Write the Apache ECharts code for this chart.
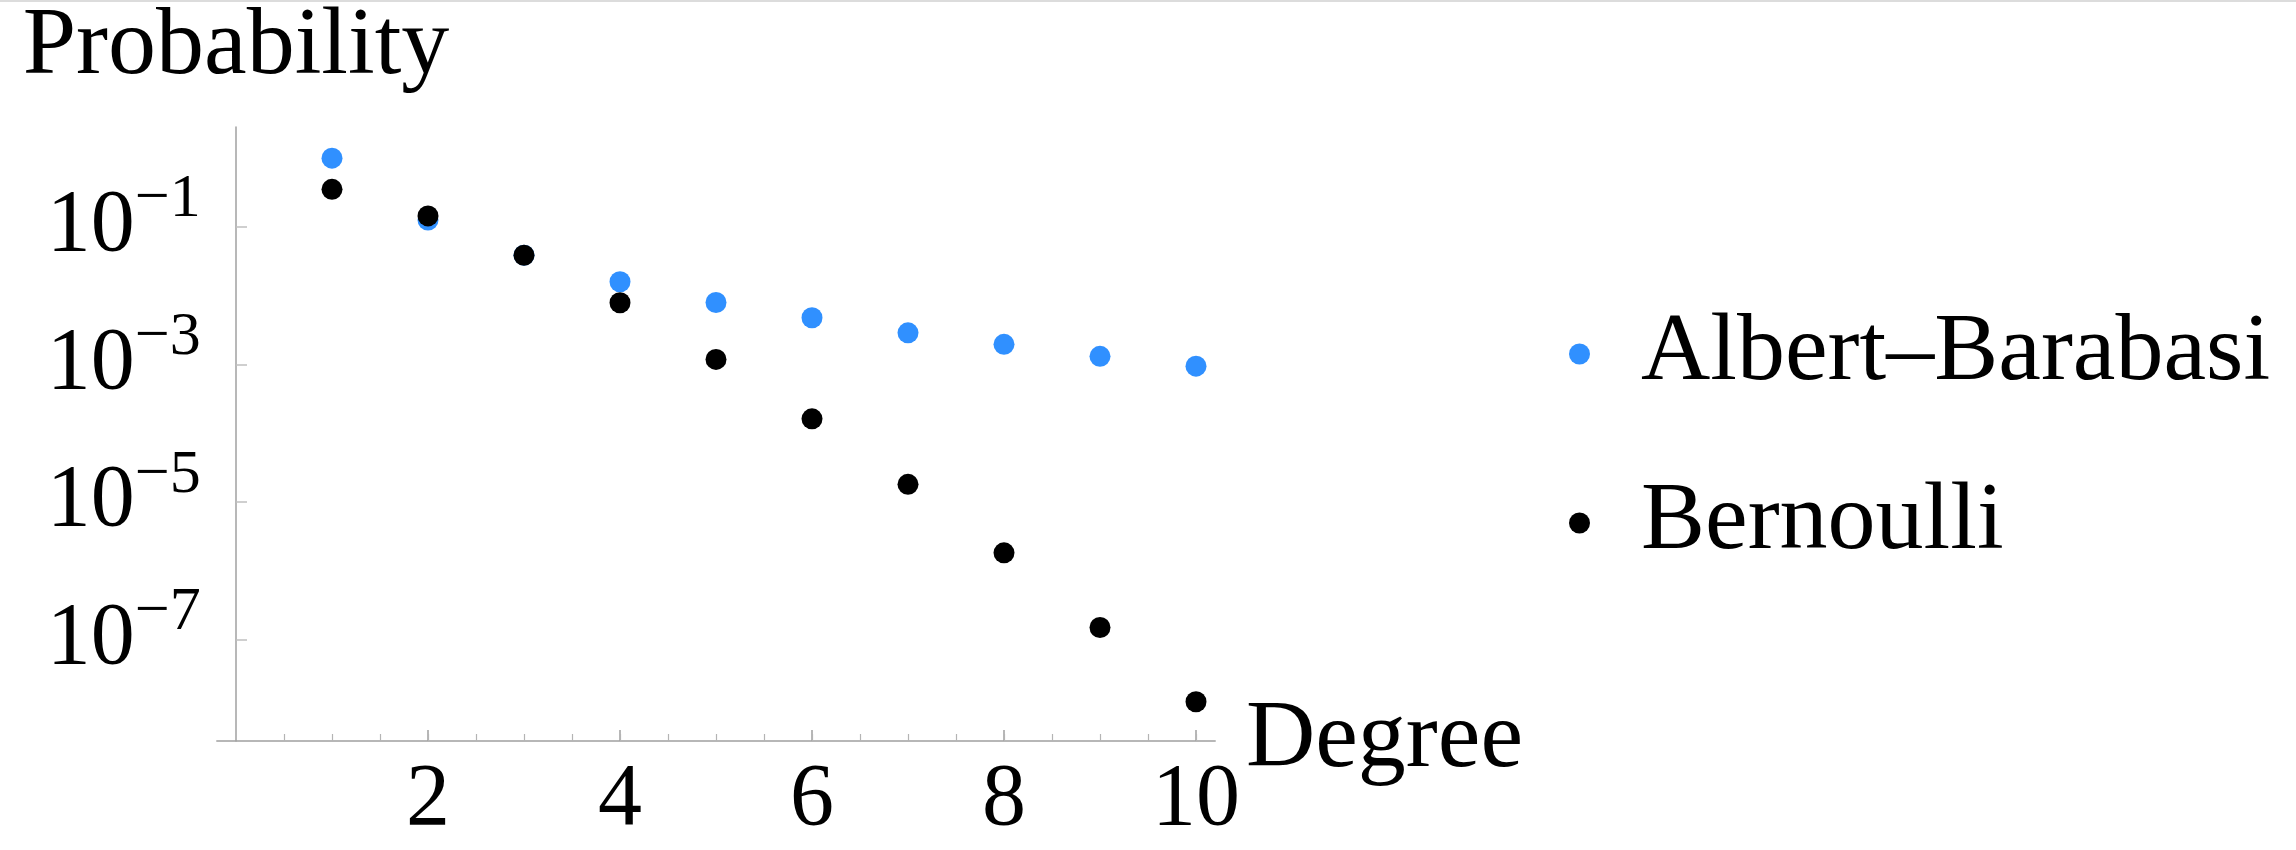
<!DOCTYPE html>
<html>
<head>
<meta charset="utf-8">
<script src="https://cdn.jsdelivr.net/npm/echarts@6/dist/echarts.min.js"></script>
<style>
html,body{margin:0;padding:0;background:#fff;}
#chart{width:2296px;height:850px;}
</style>
</head>
<body>
<div id="chart"></div>
<script>
const degrees = [1, 2, 3, 4, 5, 6, 7, 8, 9, 10];
const albertBarabasi = [1.0, 0.126, 0.039, 0.016, 0.0080, 0.0048, 0.0029, 0.00197, 0.00132, 0.00095];
const bernoulli = [0.353, 0.145, 0.0388, 0.00794, 0.00119, 1.63e-4, 1.82e-5, 1.84e-6, 1.51e-7, 1.26e-8];
const xMajorTicks = [2, 4, 6, 8, 10];
const xMinorTicks = [0.5, 1, 1.5, 2, 2.5, 3, 3.5, 4, 4.5, 5, 5.5, 6, 6.5, 7, 7.5, 8, 8.5, 9, 9.5, 10];
const yTicks = [1e-1, 1e-3, 1e-5, 1e-7];
const seriesNames = ['Albert\u2013Barabasi', 'Bernoulli'];

const FONT = '"Liberation Serif", "Times New Roman", serif';
const chart = echarts.init(document.getElementById('chart'), null, {renderer: 'canvas'});

function pairs(vals) { return degrees.map((d, i) => [d, vals[i]]); }

const option = {
  animation: false,
  backgroundColor: '#fff',
  graphic: [{
    type: 'rect', left: 0, top: 0,
    shape: {width: 2296, height: 2},
    style: {fill: '#dcdcdc'}
  }],
  grid: {left: 216.8, right: 1080.8, top: 127, bottom: 109, containLabel: false},
  legend: {
    orient: 'vertical',
    left: 1569,
    top: 306,
    padding: 0,
    itemWidth: 21,
    itemHeight: 21,
    itemGap: 73,
    icon: 'circle',
    data: seriesNames,
    textStyle: {fontFamily: FONT, fontSize: 96, color: '#000', padding: [0, 0, 34, 46]}
  },
  xAxis: [{
    type: 'value',
    min: -0.2, max: 10.2,
    position: 'bottom',
    name: 'Degree',
    nameLocation: 'end',
    nameGap: 25,
    nameTextStyle: {fontFamily: FONT, fontSize: 96, color: '#000', padding: [0, 0, 14, 0]},
    axisLine: {onZero: false, lineStyle: {color: '#a0a0a0', width: 1.5}},
    axisTick: {inside: true, length: 11, customValues: xMajorTicks, lineStyle: {color: '#a0a0a0', width: 1.5}},
    axisLabel: {customValues: xMajorTicks, fontFamily: FONT, fontSize: 88, color: '#000', margin: 16},
    splitLine: {show: false}
  }, {
    type: 'value',
    min: -0.2, max: 10.2,
    position: 'bottom',
    axisLine: {show: false, onZero: false},
    axisTick: {inside: true, length: 7, customValues: xMinorTicks, lineStyle: {color: '#b4b4b4', width: 1.2}},
    axisLabel: {show: false},
    splitLine: {show: false}
  }],
  yAxis: {
    type: 'log',
    logBase: 10,
    min: 3.39e-9,
    max: 2.84,
    name: 'Probability',
    nameLocation: 'end',
    nameGap: 31,
    nameTextStyle: {fontFamily: FONT, fontSize: 96, color: '#000', align: 'center'},
    axisLine: {onZero: true, onZeroAxisIndex: 0, lineStyle: {color: '#a0a0a0', width: 1.5}},
    axisTick: {inside: true, length: 11, customValues: yTicks, lineStyle: {color: '#c0c0c0', width: 1.5}},
    axisLabel: {
      customValues: yTicks,
      margin: 16,
      formatter: function (v) {
        const e = Math.round(Math.log10(v));
        return '{b|10}{s|' + (e < 0 ? '\u2212' + (-e) : String(e)) + '}';
      },
      rich: {
        b: {fontFamily: FONT, fontSize: 88, color: '#000'},
        s: {fontFamily: FONT, fontSize: 62, color: '#000', padding: [0, 0, 54, 0]}
      }
    },
    splitLine: {show: false},
    minorTick: {show: false}
  },
  series: [{
    name: seriesNames[0],
    type: 'scatter',
    symbol: 'circle',
    symbolSize: 21,
    itemStyle: {color: '#3090ff', opacity: 1},
    data: pairs(albertBarabasi),
    z: 2
  }, {
    name: seriesNames[1],
    type: 'scatter',
    symbol: 'circle',
    symbolSize: 21,
    itemStyle: {color: '#000000', opacity: 1},
    data: pairs(bernoulli),
    z: 3
  }]
};
chart.setOption(option);
</script>
</body>
</html>
